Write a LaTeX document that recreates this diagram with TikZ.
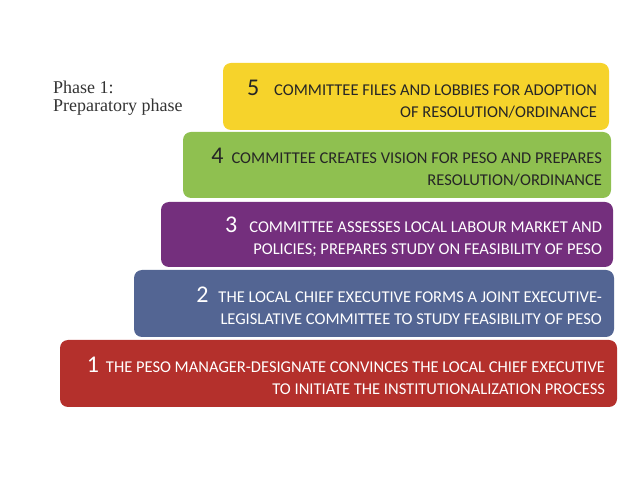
\documentclass[tikz,border=0pt]{standalone}
\usepackage{fontspec}
\setmainfont{Carlito}
\newfontfamily\phasefont{Liberation Serif}
\definecolor{pesoyellow}{HTML}{F6D32B}
\definecolor{pesogreen}{HTML}{8FC050}
\definecolor{pesopurple}{HTML}{742F7D}
\definecolor{pesoblue}{HTML}{536593}
\definecolor{pesored}{HTML}{B4302C}
\definecolor{darktext}{HTML}{262626}
\definecolor{phasegray}{HTML}{333333}
\tikzset{
  stepbox/.style={rectangle, rounded corners=8pt, inner sep=0pt},
  steptext/.style={anchor=east, align=right, inner sep=0pt, yshift=-2.5pt,
    font=\fontsize{16.5}{22}\selectfont},
  phasetext/.style={anchor=north west, align=left, inner sep=0pt, text=phasegray,
    font=\phasefont\fontsize{18}{18}\selectfont},
}
\newcommand{\stepnum}[1]{{\fontsize{24}{22}\selectfont #1}}

\begin{document}
\begin{tikzpicture}[x=1pt,y=-1pt]
        \useasboundingbox (0,0) rectangle (638,478);
        \node[phasetext] (phase) at (53,81) {Phase 1:\\Preparatory phase};
        % the five steps, bottom one widest
        \node[stepbox, fill=pesored, minimum width=557pt, minimum height=67pt] (b1) at (338.5,373.5) {};
        \node[stepbox, fill=pesoblue, minimum width=480pt, minimum height=67pt] (b2) at (374,303.5) {};
        \node[stepbox, fill=pesopurple, minimum width=452pt, minimum height=65pt] (b3) at (387,234.5) {};
        \node[stepbox, fill=pesogreen, minimum width=428pt, minimum height=66pt] (b4) at (397,165) {};
        \node[stepbox, fill=pesoyellow, minimum width=386pt, minimum height=67pt] (b5) at (416,96.5) {};
        \node[steptext, text=white] (t1) at ([xshift=-12pt]b1.east)
          {\stepnum{1}\hspace{7pt}THE PESO MANAGER-DESIGNATE CONVINCES THE LOCAL CHIEF EXECUTIVE\\TO INITIATE THE INSTITUTIONALIZATION PROCESS};
        \node[steptext, text=white] (t2) at ([xshift=-12pt]b2.east)
          {\stepnum{2}\hspace{10pt}THE LOCAL CHIEF EXECUTIVE FORMS A JOINT EXECUTIVE-\\LEGISLATIVE COMMITTEE TO STUDY FEASIBILITY OF PESO};
        \node[steptext, text=white] (t3) at ([xshift=-11pt]b3.east)
          {\stepnum{3}\hspace{12pt}COMMITTEE ASSESSES LOCAL LABOUR MARKET AND\\POLICIES; PREPARES STUDY ON FEASIBILITY OF PESO};
        \node[steptext, text=darktext] (t4) at ([xshift=-9pt]b4.east)
          {\stepnum{4}\hspace{8pt}COMMITTEE CREATES VISION FOR PESO AND PREPARES\\RESOLUTION/ORDINANCE};
        \node[steptext, text=darktext] (t5) at ([xshift=-12pt]b5.east)
          {\stepnum{5}\hspace{15pt}COMMITTEE FILES AND LOBBIES FOR ADOPTION\\OF RESOLUTION/ORDINANCE};
        \end{tikzpicture}
\end{document}
